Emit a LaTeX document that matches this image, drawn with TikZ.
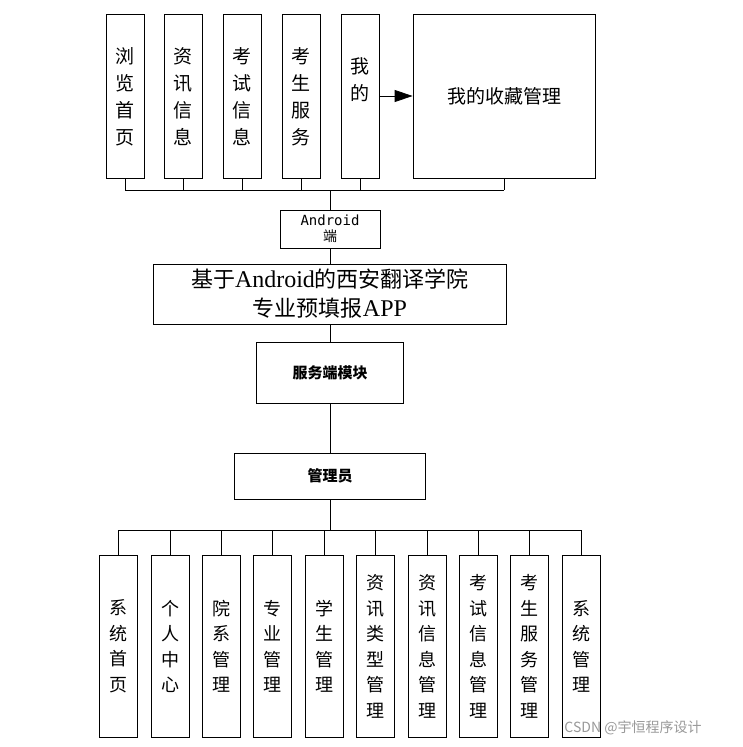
\documentclass[tikz,border=0pt]{standalone}
\usepackage{fontspec}
\usetikzlibrary{arrows.meta}
\newfontfamily\cjk{Noto Sans CJK SC}
\newfontfamily\cjkmono{DejaVu Sans Mono}
\newfontfamily\lser{Liberation Serif}
\begin{document}
\begin{tikzpicture}[x=1pt,y=-1pt,
  box/.style={draw,thick,inner sep=0pt,align=center},
  vbox/.style={box,minimum width=38pt,minimum height=164pt,anchor=north,font=\cjk\fontsize{19}{27}\selectfont},
  bbox/.style={box,minimum width=38pt,minimum height=182pt,anchor=north,font=\cjk\fontsize{18}{25.5}\selectfont},
  lbl/.style={inner sep=0pt,align=center},
  ln/.style={thick}]
\useasboundingbox[fill=white] (0,0) rectangle (743,747);
% top
\foreach \n/\x/\t in {a/125/浏\\览\\首\\页, b/183/资\\讯\\信\\息, c/242/考\\试\\信\\息, d/301/考\\生\\服\\务}
  \node[vbox] (\n) at (\x,14) {\t};
\node[vbox] (e) at (360,14) {};
\node[lbl,font=\cjk\fontsize{19}{27}\selectfont] (et) at (360,80) {我\\的};
\node[box,minimum width=182pt,minimum height=164pt,anchor=north] (f) at (504,14) {};
\node[lbl,font=\cjk\fontsize{19}{24}\selectfont] (ft) at (504,96) {我的收藏管理};
\coordinate (arr) at (360,96);
\draw[thick,-{Triangle[length=18pt,width=12pt]}] (e.east|-arr) -- (f.west|-arr);
\node[box,minimum width=100pt,minimum height=38pt,font=\fontsize{14}{16}\selectfont] (and) at (330,229) {{\cjkmono Android}\\{\cjk 端}};
\coordinate (bus) at (330,190);
\foreach \n in {a,b,c,d,e,f} \draw[ln] (\n.south) -- (\n.south|-bus);
\draw[ln] (a.south|-bus) -- (f.south|-bus);
\draw[ln] (bus) -- (and.north);
\node[box,minimum width=353pt,minimum height=60pt,font=\cjk\fontsize{22}{29}\selectfont] (main) at (330,294) {基于{\lser\fontsize{24}{29}\selectfont Android}的西安翻译学院\\专业预填报{\lser\fontsize{24}{29}\selectfont APP}};
\draw[ln] (and.south) -- (main.north);
\node[box,minimum width=147pt,minimum height=61pt,font=\cjk\bfseries\fontsize{15}{18}\selectfont] (srv) at (330,372.5) {服务端模块};
\draw[ln] (main.south) -- (srv.north);
\node[box,minimum width=191pt,minimum height=46pt,font=\cjk\bfseries\fontsize{15}{18}\selectfont] (adm) at (330,476) {管理员};
\draw[ln] (srv.south) -- (adm.north);
\coordinate (bus2) at (330,530);
\foreach \n/\x/\t in {p1/118/系\\统\\首\\页, p2/170/个\\人\\中\\心, p3/221/院\\系\\管\\理, p4/272/专\\业\\管\\理, p5/324/学\\生\\管\\理, p6/375/资\\讯\\类\\型\\管\\理, p7/427/资\\讯\\信\\息\\管\\理, p8/478/考\\试\\信\\息\\管\\理, p9/529/考\\生\\服\\务\\管\\理, p10/581/系\\统\\管\\理}
  \node[bbox] (\n) at (\x,555) {\t};
\draw[ln] (adm.south) -- (bus2);
\draw[ln] (p1.north|-bus2) -- (p10.north|-bus2);
\foreach \n in {p1,p2,p3,p4,p5,p6,p7,p8,p9,p10} \draw[ln] (\n.north|-bus2) -- (\n.north);
\node[font=\cjk\fontsize{14}{16}\selectfont,text=gray!80] (wm) at (633,728) {CSDN @宇恒程序设计};
\end{tikzpicture}
\end{document}
